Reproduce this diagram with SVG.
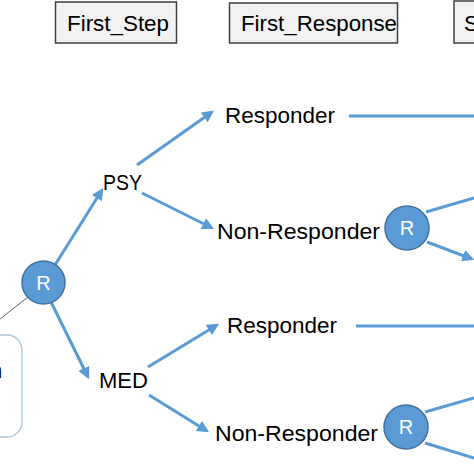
<svg xmlns="http://www.w3.org/2000/svg" width="474" height="474" viewBox="0 0 474 474">
<style>
.hdr{fill:#f2f2f2;stroke:#3f3f3f;stroke-width:1.5}
.t{font-family:"Liberation Sans",Arial,sans-serif;font-size:22px;fill:#000}
.ht{font-family:"Liberation Sans",Arial,sans-serif;font-size:22px;fill:#000}
.c{fill:#5b9bd5;stroke:#41719c;stroke-width:1.5}
.ct{font-family:"Liberation Sans",Arial,sans-serif;font-size:20px;fill:#fff;text-anchor:middle}
.l{stroke:#5b9bd5;stroke-width:3;fill:none}
.a{stroke:#5b9bd5;stroke-width:3;fill:none;marker-end:url(#ah)}
</style>
<defs>
<marker id="ah" viewBox="0 0 10 10" refX="8" refY="5" markerWidth="4" markerHeight="4" orient="auto" markerUnits="strokeWidth">
<path d="M0,0 L10,5 L0,10 z" fill="#5b9bd5"/>
</marker>
</defs>
<rect width="474" height="474" fill="#fff"/>
<g id="hdr1"><rect class="hdr" x="55.5" y="2" width="121" height="41"/><text class="ht" x="67" y="31" textLength="102" lengthAdjust="spacingAndGlyphs">First_Step</text></g>
<g id="hdr2"><rect class="hdr" x="229.5" y="3" width="168" height="40"/><text class="ht" x="241" y="31" textLength="156" lengthAdjust="spacingAndGlyphs">First_Response</text></g>
<g id="hdr3"><rect class="hdr" x="454" y="1" width="30" height="42"/><text class="ht" x="464" y="31">S</text></g>
<g id="left"><rect x="-40" y="335" width="62" height="102" rx="15" fill="none" stroke="#a8c3da" stroke-width="1.3"/><text class="t" x="-10" y="378">n</text></g>
<g id="connectors">
<line x1="28" y1="297" x2="0" y2="319" stroke="#666" stroke-width="1"/>
<line class="a" x1="55" y1="265" x2="102" y2="190"/>
<line class="a" x1="51" y1="302" x2="88" y2="377"/>
<line class="a" x1="137" y1="165" x2="212" y2="112"/>
<line class="a" x1="142" y1="193" x2="212" y2="228"/>
<line class="a" x1="148" y1="367" x2="217" y2="325"/>
<line class="a" x1="149" y1="395" x2="207" y2="431"/>
<line class="l" x1="349" y1="116" x2="474" y2="116"/>
<line class="l" x1="356" y1="326" x2="474" y2="326"/>
<line class="l" x1="426" y1="212" x2="474" y2="198"/>
<line class="a" x1="427" y1="242" x2="472" y2="259"/>
<line class="l" x1="425" y1="412" x2="474" y2="398"/>
<line class="l" x1="425" y1="443" x2="474" y2="458"/>
</g>
<g id="R1"><circle class="c" cx="43.5" cy="282.5" r="21.5"/><text class="ct" x="43.5" y="290">R</text></g>
<g id="PSY"><text class="t" x="103" y="190" textLength="39" lengthAdjust="spacingAndGlyphs">PSY</text></g>
<g id="MED"><text class="t" x="99" y="388" textLength="49" lengthAdjust="spacingAndGlyphs">MED</text></g>
<g id="resp1"><text class="t" x="225" y="123" textLength="110" lengthAdjust="spacingAndGlyphs">Responder</text></g>
<g id="nonresp1"><text class="t" x="217" y="239" textLength="163" lengthAdjust="spacingAndGlyphs">Non-Responder</text></g>
<g id="resp2"><text class="t" x="227" y="333" textLength="110" lengthAdjust="spacingAndGlyphs">Responder</text></g>
<g id="nonresp2"><text class="t" x="215" y="441" textLength="163" lengthAdjust="spacingAndGlyphs">Non-Responder</text></g>
<g id="R2"><circle class="c" cx="407" cy="228" r="22"/><text class="ct" x="407" y="235">R</text></g>
<g id="R3"><circle class="c" cx="406" cy="427" r="22"/><text class="ct" x="406" y="434">R</text></g>
</svg>
